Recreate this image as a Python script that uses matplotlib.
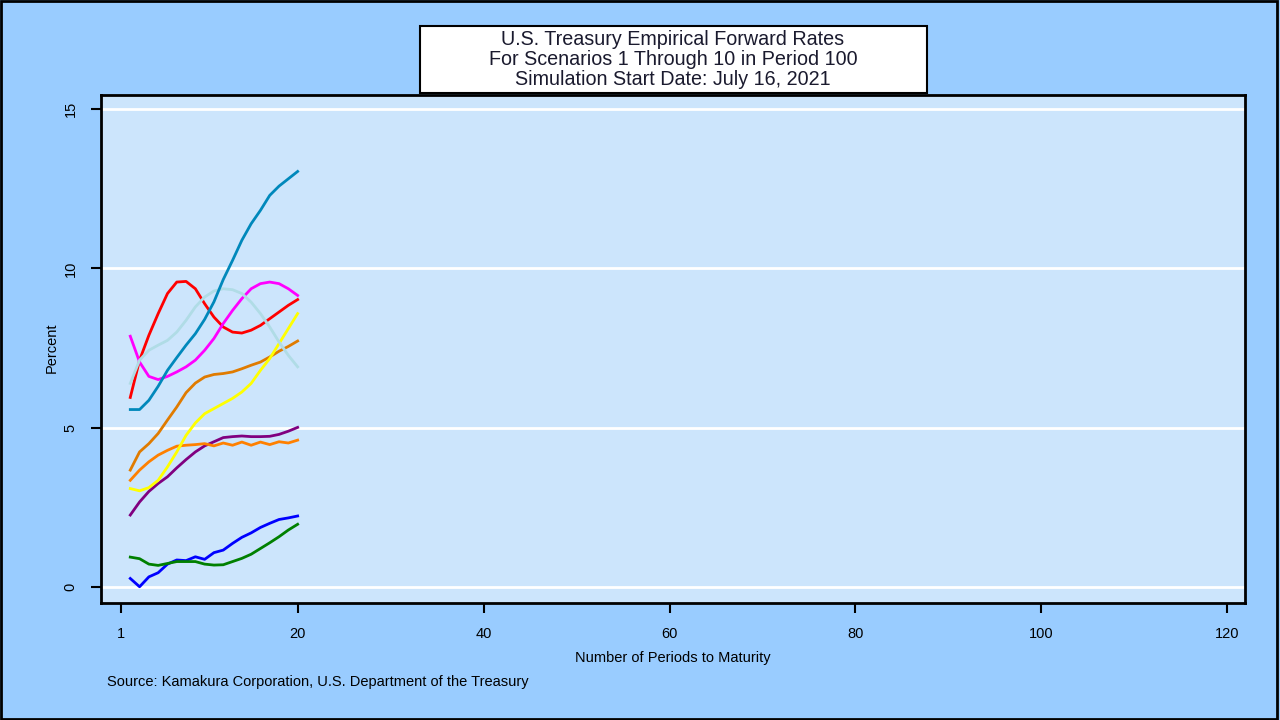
import numpy as np
import matplotlib.pyplot as plt
from matplotlib.patches import Rectangle

plt.rcParams['font.family'] = ['Liberation Sans', 'DejaVu Sans']

periods = list(range(2, 21))

# one list per scenario (percent)
scenario_blue    = [0.27, 0.01, 0.32, 0.45, 0.72, 0.85, 0.83, 0.95, 0.87, 1.08, 1.16, 1.37, 1.56, 1.70, 1.87, 2.00, 2.12, 2.17, 2.23]
scenario_green   = [0.94, 0.89, 0.72, 0.68, 0.74, 0.80, 0.80, 0.80, 0.72, 0.69, 0.70, 0.80, 0.90, 1.03, 1.21, 1.39, 1.58, 1.79, 1.97]
scenario_purple  = [2.26, 2.67, 3.00, 3.25, 3.46, 3.74, 4.00, 4.24, 4.43, 4.56, 4.69, 4.72, 4.74, 4.72, 4.72, 4.73, 4.79, 4.89, 5.01]
scenario_orange  = [3.35, 3.67, 3.93, 4.14, 4.29, 4.42, 4.45, 4.47, 4.50, 4.43, 4.52, 4.45, 4.55, 4.45, 4.55, 4.47, 4.56, 4.52, 4.61]
scenario_dorange = [3.67, 4.24, 4.50, 4.82, 5.24, 5.65, 6.10, 6.40, 6.59, 6.67, 6.70, 6.75, 6.85, 6.96, 7.06, 7.22, 7.40, 7.55, 7.72]
scenario_yellow  = [3.09, 3.02, 3.12, 3.35, 3.77, 4.24, 4.76, 5.15, 5.44, 5.60, 5.76, 5.92, 6.12, 6.39, 6.80, 7.17, 7.64, 8.11, 8.58]
scenario_red     = [5.95, 7.12, 7.90, 8.58, 9.21, 9.57, 9.59, 9.36, 8.89, 8.47, 8.16, 8.00, 7.97, 8.06, 8.21, 8.42, 8.63, 8.84, 9.02]
scenario_magenta = [7.87, 7.06, 6.61, 6.51, 6.61, 6.75, 6.91, 7.12, 7.43, 7.80, 8.27, 8.68, 9.05, 9.36, 9.52, 9.57, 9.52, 9.36, 9.15]
scenario_lblue   = [6.39, 7.12, 7.43, 7.59, 7.74, 8.00, 8.37, 8.79, 9.10, 9.29, 9.36, 9.33, 9.21, 8.94, 8.58, 8.16, 7.69, 7.27, 6.91]
scenario_teal    = [5.57, 5.57, 5.86, 6.30, 6.80, 7.20, 7.59, 7.95, 8.40, 8.95, 9.65, 10.25, 10.88, 11.40, 11.82, 12.29, 12.58, 12.81, 13.04]

series = [
    (scenario_blue, "#0000FF"),
    (scenario_green, "#008000"),
    (scenario_purple, "#800080"),
    (scenario_orange, "#FF8000"),
    (scenario_dorange, "#E07B00"),
    (scenario_yellow, "#FFFF00"),
    (scenario_red, "#FF0000"),
    (scenario_magenta, "#FF00FF"),
    (scenario_lblue, "#B0DCE6"),
    (scenario_teal, "#0088BB"),
]

x_ticks = [1, 20, 40, 60, 80, 100, 120]
y_ticks = [0, 5, 10, 15]

fig = plt.figure(figsize=(12.8, 7.2), dpi=100)
fig.patch.set_facecolor("#99CCFF")
fig.patches.append(Rectangle((0.001, 0.002), 0.997, 0.996, transform=fig.transFigure,
                             fill=False, edgecolor="black", linewidth=2))

ax = fig.add_axes([0.0789, 0.1625, 0.8938, 0.7056])
ax.set_facecolor("#CCE5FC")
for y in y_ticks:
    ax.axhline(y, color="white", linewidth=2, zorder=1)

for values, color in series:
    ax.plot(periods, values, color=color, linewidth=2.0, zorder=3)

ax.set_xlim(-1.15, 121.9)
ax.set_ylim(-0.5, 15.44)
ax.set_xticks(x_ticks)
ax.set_yticks(y_ticks)
ax.tick_params(axis="both", direction="out", length=7, width=1.5, labelsize=10.5, pad=10)
ax.tick_params(axis="y", labelrotation=90)
for lab in ax.get_yticklabels():
    lab.set_va("center")
for s in ax.spines.values():
    s.set_linewidth(2)

fig.text(0.5258, 0.0861, "Number of Periods to Maturity", ha="center", va="center", fontsize=10.5)
fig.text(0.0406, 0.5167, "Percent", ha="center", va="center", rotation=90, fontsize=10.5)
fig.text(0.0836, 0.0528, "Source: Kamakura Corporation, U.S. Department of the Treasury",
         ha="left", va="center", fontsize=10.5)

fig.patches.append(Rectangle((420 / 1280, 1 - 93 / 720), 507 / 1280, 67 / 720, transform=fig.transFigure,
                             facecolor="white", edgecolor="black", linewidth=1.5))
fig.text(673 / 1280, 1 - 59.5 / 720,
         "U.S. Treasury Empirical Forward Rates\nFor Scenarios 1 Through 10 in Period 100\nSimulation Start Date: July 16, 2021",
         ha="center", va="center", fontsize=14.2, color="#1a1a2e", linespacing=1.09)

plt.savefig("out.png", dpi=100, facecolor=fig.get_facecolor())
